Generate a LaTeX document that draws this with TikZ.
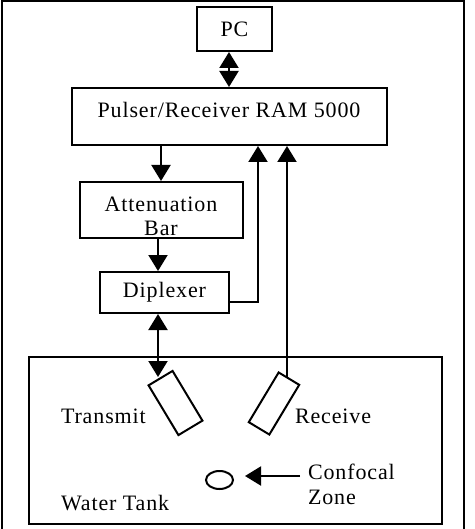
\documentclass[tikz,border=0pt]{standalone}
\usepackage{fontspec}
\setmainfont{Liberation Serif}[LetterSpace=4]
\usetikzlibrary{arrows.meta,calc,shapes.geometric}
\tikzset{
	box/.style={rectangle,draw,inner sep=0,fill=white},
	probe/.style={rectangle,draw,inner sep=0,minimum height=58pt},
	edge/.style={color=black},
	diredge/.style={-{Triangle[width=19pt,length=16pt]},color=black},
	bidiredge/.style={{Triangle[width=19pt,length=16pt]}-{Triangle[width=19pt,length=16pt]},color=black},
	tanklabel/.style={anchor=base west,inner sep=0}
}
\begin{document}
\begin{tikzpicture}[x=1pt, y=-1pt, line width=2pt]
	\fontsize{22}{24}\selectfont
	\useasboundingbox (0,0) rectangle (474,529);
	\clip (0,0) rectangle (474,529);
	
	% outer frame
	\draw[line width=2.4pt] (2,1) rectangle (464,545);
	
	\node[box,minimum width=75pt,minimum height=44pt] (PC) at (234.5,29) {PC};
	\node[box,minimum width=315pt,minimum height=57pt,text depth=14pt] (PR) at (229,116.5) {Pulser/Receiver RAM 5000};
	\node[box,minimum width=163pt,minimum height=56pt] (AB) at (161,210) {};
	\node[align=center,inner sep=0] (ABtext) at ($(AB)+(0,6)$) {Attenuation\\Bar};
	\node[box,minimum width=129pt,minimum height=41pt] (DX) at (164.5,292.5) {Diplexer};
	
	% water tank
	\draw (29,357) rectangle (442,524);
	\node[probe,minimum width=28pt,rotate=31] (TX) at (175.5,403) {};
	\node[probe,minimum width=24pt,rotate=-31] (RX) at (274,403.5) {};
	\node[ellipse,draw,inner sep=0,minimum width=27pt,minimum height=18pt] (CZ) at (219.5,480) {};
	\coordinate (TXin) at (158,377);
	\coordinate (RXin) at (287,377);
	\coordinate (CZout) at (300,476);
	\coordinate (CZin) at (245,476);
	
	\node[tanklabel] (TXL) at (60,423) {Transmit};
	\node[tanklabel] (RXL) at (294,423) {Receive};
	\node[tanklabel] (CFL) at (307,479) {Confocal};
	\node[tanklabel] (ZNL) at (307,504) {Zone};
	\node[tanklabel] (WTL) at (60,510) {Water Tank};
	
	\draw[bidiredge] (PC.south -| PR.north) -- (PR.north);
	\draw[diredge] (PR.south -| AB.north) -- (AB.north);
	\draw[diredge] (AB.south -| TXin) -- (DX.north -| TXin);
	\draw[diredge] ($(DX.south east)+(0,-12)$) -| ($(PR.south)+(29,0)$);
	\draw[bidiredge] (DX.south -| TXin) -- (TXin);
	\draw[diredge] (RXin) -- (PR.south -| RXin);
	\draw[diredge] (CZout) -- (CZin);
\end{tikzpicture}
\end{document}
